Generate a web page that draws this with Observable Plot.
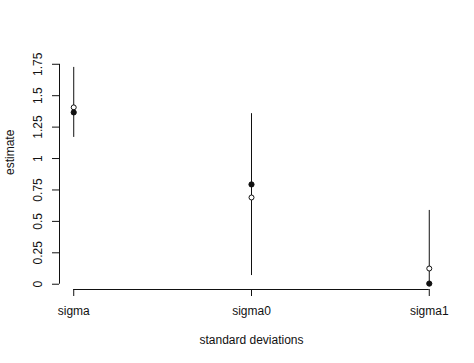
<!DOCTYPE html>
<html>
<head>
<meta charset="utf-8">
<script src="https://cdn.jsdelivr.net/npm/d3@7"></script>
<script src="https://cdn.jsdelivr.net/npm/@observablehq/plot@0.6"></script>
<style>
  html, body { margin: 0; padding: 0; background: #fff; }
  svg { display: block; }
</style>
</head>
<body>
<div id="chart"></div>
<script>
const categories = ["sigma", "sigma0", "sigma1"];
const estimateFilled = [1.367, 0.794, 0.005];
const estimateOpen = [1.407, 0.690, 0.125];
const lower = [1.168, 0.069, 0.005];
const upper = [1.725, 1.357, 0.587];
const yTicks = [0, 0.25, 0.5, 0.75, 1, 1.25, 1.5, 1.75];
const xTitle = "standard deviations";
const yTitle = "estimate";

const data = categories.map((c, i) => ({
  idx: i + 1, cat: c, filled: estimateFilled[i], open: estimateOpen[i], lo: lower[i], hi: upper[i]
}));

const xDomain = [0.92, 3.08];
const yDomain = [-0.042, 1.78];
const ink = "#111";

const chart = Plot.plot({
  width: 474,
  height: 363,
  marginLeft: 59,
  marginRight: 31,
  marginTop: 60,
  marginBottom: 74,
  style: { fontFamily: "'Liberation Sans', Arial, sans-serif", fontSize: "12px", color: ink, background: "#fff" },
  x: { type: "linear", domain: xDomain, axis: null, label: null },
  y: { type: "linear", domain: yDomain, axis: null, label: null },
  marks: [
    // y axis line + ticks + labels
    Plot.ruleX([xDomain[0]], { y1: yTicks[0], y2: yTicks[yTicks.length - 1], stroke: ink, strokeWidth: 1 }),
    Plot.axisY(yTicks, { tickSize: 7, tickFormat: () => "", stroke: ink, label: null }),
    Plot.text(yTicks, { y: d => d, text: d => String(d), frameAnchor: "left", dx: -21, rotate: -90, textAnchor: "middle", lineAnchor: "middle", fill: ink, fontSize: 12 }),
    // x axis line + ticks + labels
    Plot.ruleY([yDomain[0]], { x1: 1, x2: categories.length, stroke: ink, strokeWidth: 1 }),
    Plot.axisX(data.map(d => d.idx), { tickSize: 7, tickPadding: 10, tickFormat: i => categories[i - 1], stroke: ink, fill: ink, fontSize: 12, label: null }),
    // titles
    Plot.text([xTitle], { frameAnchor: "bottom", dy: 51, text: d => d, fill: ink, fontSize: 12, lineAnchor: "middle" }),
    Plot.text([yTitle], { frameAnchor: "left", dx: -49, rotate: -90, text: d => d, fill: ink, fontSize: 12, lineAnchor: "middle" }),
    // intervals
    Plot.ruleX(data, { x: "idx", y1: "lo", y2: "hi", stroke: ink, strokeWidth: 1 }),
    Plot.dot(data, { x: "idx", y: "open", r: 2.5, fill: "#fff", stroke: ink, strokeWidth: 1 }),
    Plot.dot(data, { x: "idx", y: "filled", r: 2.6, fill: ink, stroke: ink, strokeWidth: 1 })
  ]
});
document.getElementById("chart").appendChild(chart);
</script>
</body>
</html>
